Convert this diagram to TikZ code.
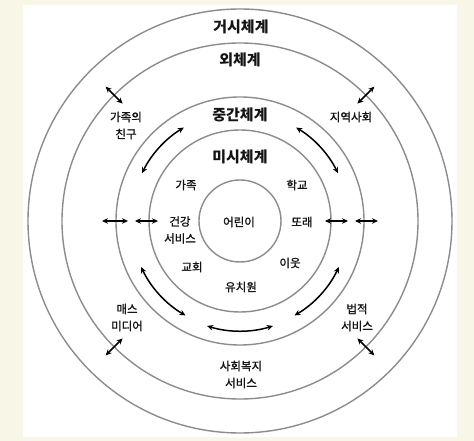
\documentclass[tikz,border=0pt]{standalone}
\usepackage{fontspec}
\setmainfont{Noto Sans CJK KR}
\newfontfamily\lblfont[FakeBold=1.2]{Noto Sans CJK KR}
\usetikzlibrary{arrows.meta}
\definecolor{cream}{RGB}{248,246,230}
\definecolor{ringgray}{RGB}{140,140,140}
\definecolor{ink}{RGB}{20,20,20}
\tikzset{
  ring/.style={draw=ringgray, line width=1.4pt},
  title/.style={font=\fontsize{15}{17}\selectfont\bfseries, text=ink, inner sep=0pt},
  lbl/.style={font=\lblfont\fontsize{11.5}{17}\selectfont, text=ink, align=center, inner sep=0pt},
  dblarrow/.style={draw=black, line width=1.5pt, {Stealth[length=6pt,width=5.5pt]}-{Stealth[length=6pt,width=5.5pt]}}
}
\begin{document}
\begin{tikzpicture}[x=1pt,y=1pt]
\useasboundingbox (-240,-220) rectangle (234,221);
\fill[cream] (-240,-220) rectangle (234,221);
\fill[white] (-217,-216) rectangle (217,216);
\coordinate (c) at (0,0);
% rings
\draw[ring] (c) circle[radius=212];
\draw[ring] (c) circle[radius=178];
\draw[ring] (c) circle[radius=124];
\draw[ring] (c) circle[radius=91];
\draw[ring] (c) circle[radius=41];
% titles
\node[title] (macro) at (1,194) {거시체계};
\node[title] (exo) at (0,161) {외체계};
\node[title] (meso) at (0,106) {중간체계};
\node[title] (micro) at (0,64) {미시체계};
% labels
\node[lbl] (child) at (-1,-1) {어린이};
\node[lbl] (family) at (-54,36) {가족};
\node[lbl] (school) at (57,36) {학교};
\node[lbl] (health) at (-60,-9) {건강\\서비스};
\node[lbl] (peer) at (62,-1) {또래};
\node[lbl] (church) at (-48,-46) {교회};
\node[lbl] (neighbor) at (50,-42) {이웃};
\node[lbl] (kinder) at (1,-66) {유치원};
\node[lbl] (friends) at (-114,95.5) {가족의\\친구};
\node[lbl] (community) at (111,104) {지역사회};
\node[lbl] (media) at (-113,-96.5) {매스\\미디어};
\node[lbl] (legal) at (117,-96.5) {법적\\서비스};
\node[lbl] (welfare) at (1,-153.5) {사회복지\\서비스};
% arrow end coordinates
\coordinate (hl1a) at (-138,0); \coordinate (hl1b) at (-112,0);
\coordinate (hl2a) at (-105,0); \coordinate (hl2b) at (-82,0);
\coordinate (hr1a) at (85,0);   \coordinate (hr1b) at (108,0);
\coordinate (hr2a) at (115,0);  \coordinate (hr2b) at (138,0);
\coordinate (ula) at (135:166); \coordinate (ulb) at (135:190);
\coordinate (ura) at (45:166);  \coordinate (urb) at (45:190);
\coordinate (lla) at (225:166); \coordinate (llb) at (225:190);
\coordinate (lra) at (315:166); \coordinate (lrb) at (315:190);
% straight arrows
\draw[dblarrow] (hl1a) -- (hl1b);
\draw[dblarrow] (hl2a) -- (hl2b);
\draw[dblarrow] (hr1a) -- (hr1b);
\draw[dblarrow] (hr2a) -- (hr2b);
\draw[dblarrow] (ula) -- (ulb);
\draw[dblarrow] (ura) -- (urb);
\draw[dblarrow] (lla) -- (llb);
\draw[dblarrow] (lra) -- (lrb);
% curved arrows
\coordinate (aul) at (154:109);
\coordinate (aur) at (59:109);
\coordinate (all) at (205:109);
\coordinate (alr) at (300:109);
\coordinate (abt) at (252.6:110);
\draw[dblarrow] (aul) arc[start angle=154, end angle=121, radius=109];
\draw[dblarrow] (aur) arc[start angle=59, end angle=26, radius=109];
\draw[dblarrow] (all) arc[start angle=205, end angle=240, radius=109];
\draw[dblarrow] (alr) arc[start angle=300, end angle=335, radius=109];
\draw[dblarrow] (abt) arc[start angle=252.6, end angle=287.4, radius=110];
\end{tikzpicture}
\end{document}
